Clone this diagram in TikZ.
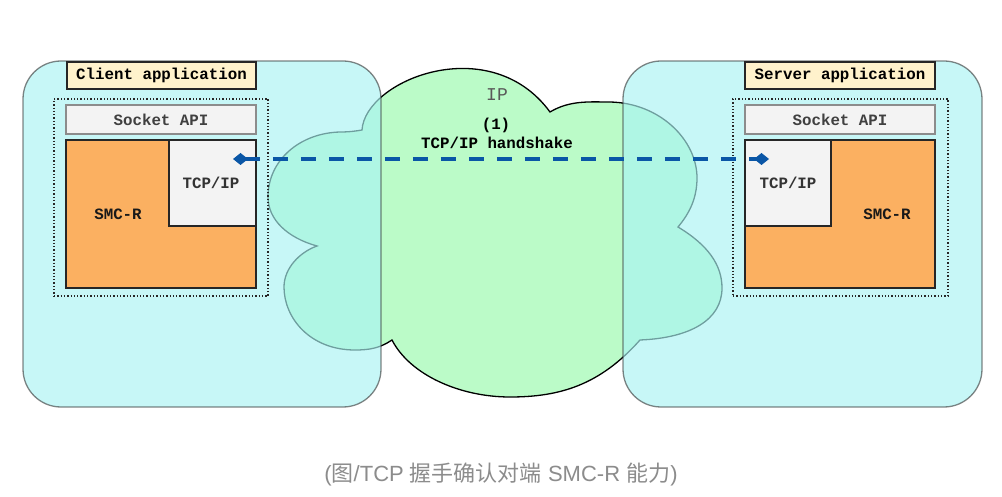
\documentclass[tikz,border=0pt]{standalone}
\usepackage{fontspec}
\setmainfont{Liberation Sans}
\newfontfamily\monofam{Liberation Mono}
\newfontfamily\cjkfam{Noto Sans CJK SC}
\usetikzlibrary{arrows.meta}
\definecolor{appfill}{RGB}{170,244,244}
\definecolor{cloudfill}{RGB}{187,251,200}
\definecolor{lblfill}{RGB}{255,242,204}
\definecolor{boxgrey}{RGB}{243,243,243}
\definecolor{smcorange}{RGB}{251,176,97}
\definecolor{arrowblue}{RGB}{10,86,166}
\definecolor{captiongrey}{RGB}{140,140,140}
\begin{document}
\begin{tikzpicture}[x=1pt,y=-1pt,
  appbox/.style={draw=black!80, draw opacity=0.6, fill=appfill, fill opacity=0.65, line width=1.3pt, rounded corners=38pt, inner sep=0pt, outer sep=0pt},
  cloudshape/.style={draw=black, fill=cloudfill, line width=1.3pt},
  lblbox/.style={draw=black!85, fill=lblfill, line width=1.3pt, inner sep=0pt, outer sep=0pt, font=\monofam\bfseries\fontsize{15.8}{18}\selectfont},
  dotbox/.style={draw=black!85, dotted, line width=1.3pt, inner sep=0pt, outer sep=0pt},
  apibox/.style={draw=black!45, fill=boxgrey, line width=1.5pt, inner sep=0pt, outer sep=0pt, text=black!75, font=\monofam\bfseries\fontsize{15.8}{18}\selectfont},
  smcbox/.style={draw=black!85, fill=smcorange, line width=1.5pt, inner sep=0pt, outer sep=0pt},
  tcpbox/.style={draw=black!85, fill=boxgrey, line width=1.5pt, inner sep=0pt, outer sep=0pt},
  monotext/.style={inner sep=0pt, font=\monofam\bfseries\fontsize{15.8}{18}\selectfont},
  handshake/.style={draw=arrowblue, line width=4pt, dash pattern=on 15pt off 13pt, {Diamond[length=15pt,width=12pt]}-{Diamond[length=15pt,width=12pt]}}
]
\useasboundingbox (0,0) rectangle (1002,497);
\fill[white] (0,0) rectangle (1002,497);

% IP cloud
\draw[cloudshape] (362,130)
  .. controls (365,80) and (490,30) .. (550,112)
  .. controls (570,100) and (590,102) .. (610,102)
  .. controls (660,103) and (697,140) .. (697,178)
  .. controls (697,200) and (688,215) .. (678,227)
  .. controls (708,245) and (722,265) .. (722,288)
  .. controls (722,320) and (690,338) .. (640,340)
  .. controls (600,385) and (560,397) .. (510,397)
  .. controls (460,397) and (410,375) .. (392,340)
  .. controls (380,348) and (370,350) .. (355,350)
  .. controls (310,350) and (284,318) .. (284,287)
  .. controls (284,268) and (300,252) .. (317,246)
  .. controls (288,238) and (268,220) .. (268,197)
  .. controls (268,160) and (300,133) .. (340,132)
  .. controls (350,132) and (356,131) .. cycle;

% application boxes
\node[appbox, minimum width=358pt, minimum height=346pt] (clientapp) at (202,234) {};
\node[appbox, minimum width=359pt, minimum height=346pt] (serverapp) at (802.5,234) {};

% client side
\node[lblbox, minimum width=189pt, minimum height=27pt] (clientlbl) at (161.5,75.5) {Client application};
\node[dotbox, minimum width=214pt, minimum height=197pt] (clientstack) at (161,197.5) {};
\node[apibox, minimum width=190pt, minimum height=29pt] (clientapi) at (161,119.5) {Socket API};
\node[smcbox, minimum width=190pt, minimum height=148pt] (clientsmc) at (161,214) {};
\node[tcpbox, minimum width=87pt, minimum height=86pt] (clienttcp) at (212.5,183) {};
\node[monotext, text=black!80] (clienttcptext) at (211,183) {TCP/IP};
\node[monotext, text=black!90] (clientsmctext) at (118,214) {SMC-R};

% server side
\node[lblbox, minimum width=190pt, minimum height=27pt] (serverlbl) at (840,75.5) {Server application};
\node[dotbox, minimum width=215pt, minimum height=197pt] (serverstack) at (840.5,197.5) {};
\node[apibox, minimum width=190pt, minimum height=29pt] (serverapi) at (840,119.5) {Socket API};
\node[smcbox, minimum width=190pt, minimum height=148pt] (serversmc) at (840,214) {};
\node[tcpbox, minimum width=86pt, minimum height=86pt] (servertcp) at (788,183) {};
\node[monotext, text=black!80] (servertcptext) at (788,183) {TCP/IP};
\node[monotext, text=black!90] (serversmctext) at (887,214) {SMC-R};

% cloud labels
\node[inner sep=0pt, text=black!65, font=\monofam\fontsize{18}{20}\selectfont] (iplabel) at (497,95) {IP};
\node[monotext, text=black] (steplabel) at (496,125) {(1)};
\node[monotext, text=black] (handshakelabel) at (497,143) {TCP/IP handshake};

% handshake connector
\coordinate (hsL) at (233,159);
\coordinate (hsR) at (769,159);
\draw[handshake] (hsL) -- (hsR);

% caption
\node[inner sep=0pt, text=captiongrey, font=\fontsize{22}{25}\selectfont] (caption) at (501,475)
  {(\cjkfam 图\rmfamily /TCP \cjkfam 握手确认对端\rmfamily{} SMC-R \cjkfam 能力\rmfamily )};
\end{tikzpicture}
\end{document}
